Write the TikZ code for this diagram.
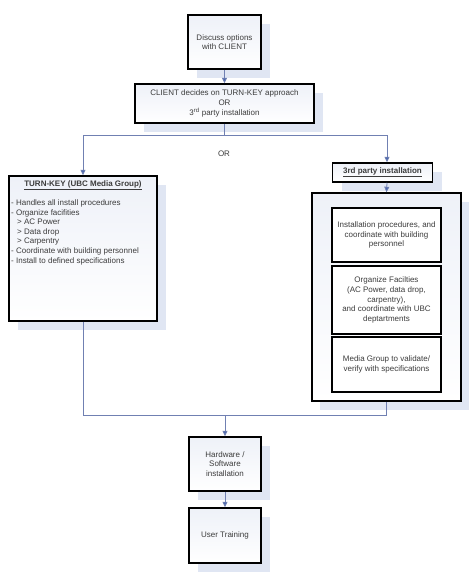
\documentclass[tikz,border=0pt]{standalone}
\usepackage{fontspec}
\setmainfont{Liberation Sans}
\usetikzlibrary{arrows.meta,shadows}
\definecolor{shadowc}{RGB}{224,230,243}
\definecolor{boxtop}{RGB}{238,241,248}
\definecolor{linec}{RGB}{112,128,178}
\definecolor{tipc}{RGB}{74,104,176}
\definecolor{textc}{RGB}{60,60,60}
\tikzset{
  box/.style={draw=black, line width=1.5pt, top color=boxtop, bottom color=white,
    align=center, inner sep=1pt, text=textc,
    font=\fontsize{8}{9.6}\selectfont},
  shadowed/.style={drop shadow={shadow xshift=9pt, shadow yshift=-9pt, fill=shadowc, opacity=1}},
  inbox/.style={draw=black, line width=1.5pt, fill=white, align=center, inner sep=1pt,
    text=textc, font=\fontsize{8}{9.6}\selectfont},
  conn/.style={draw=linec, line width=0.8pt},
  arr/.style={conn, -{Triangle[length=5.5pt,width=5pt,fill=tipc]}},
  lbl/.style={text=textc, font=\fontsize{8}{9.6}\selectfont, inner sep=0pt}
}
\begin{document}
\begin{tikzpicture}[x=1pt,y=-1pt]
\useasboundingbox (0,0) rectangle (474,582);
\fill[white] (0,0) rectangle (474,582);
% boxes
\node[box,shadowed,minimum width=73pt,minimum height=54pt] (b1) at (224.5,42) {Discuss options\\with CLIENT};
\node[box,shadowed,minimum width=179pt,minimum height=39pt] (b2) at (224.5,103.5) {CLIENT decides on TURN-KEY approach\\OR\\3\textsuperscript{rd} party installation};
\node[lbl] (or) at (224,154) {OR};
\node[box,shadowed,minimum width=148pt,minimum height=145pt] (tk) at (83,248.5) {};
\node[lbl,font=\fontsize{8}{9.6}\selectfont\bfseries] (tkt) at (83,185) {\underline{TURN-KEY (UBC Media Group)}};
\node[lbl,anchor=north west,align=left] (tkl) at (11,199.5) {- Handles all install procedures\\- Organize facifities\\\hspace*{6pt}> AC Power\\\hspace*{6pt}> Data drop\\\hspace*{6pt}> Carpentry\\- Coordinate with building personnel\\- Install to defined specifications};
\node[box,shadowed,minimum width=100pt,minimum height=19pt,font=\fontsize{8}{9.6}\selectfont\bfseries] (tp) at (382.5,172.5) {\underline{3rd party installation}};
\node[box,drop shadow={shadow xshift=8pt, shadow yshift=-9pt, fill=shadowc, opacity=1},minimum width=149pt,minimum height=208pt] (big) at (386.5,297) {};
\node[inbox,minimum width=109pt,minimum height=54pt] (i1) at (386.5,235) {Installation procedures, and\\coordinate with building\\personnel};
\node[inbox,minimum width=109pt,minimum height=68pt] (i2) at (386.5,300) {Organize Facilties\\(AC Power, data drop,\\carpentry),\\and coordinate with UBC\\deptartments};
\node[inbox,minimum width=109pt,minimum height=55pt] (i3) at (386.5,364.5) {Media Group to validate/\\verify with specifications};
\node[box,shadowed,minimum width=72pt,minimum height=54pt] (hw) at (225,464) {Hardware /\\Software\\installation};
\node[box,shadowed,minimum width=72pt,minimum height=55pt] (ut) at (225,535.5) {User Training};
% connectors
\coordinate (split) at (224.5,135);
\coordinate (merge) at (225,415);
\draw[arr] (b1.south) -- (b2.north);
\draw[conn] (b2.south) -- (split);
\draw[arr] (split) -| (tk.north);
\draw[arr] (split) -| ([xshift=4.5pt]tp.north);
\draw[arr] ([xshift=4.5pt]tp.south) -- (big.north);
\draw[conn] (tk.south) |- (merge);
\draw[conn] (big.south) |- (merge);
\draw[arr] (merge) -- (hw.north);
\draw[arr] (hw.south) -- (ut.north);
\end{tikzpicture}
\end{document}
